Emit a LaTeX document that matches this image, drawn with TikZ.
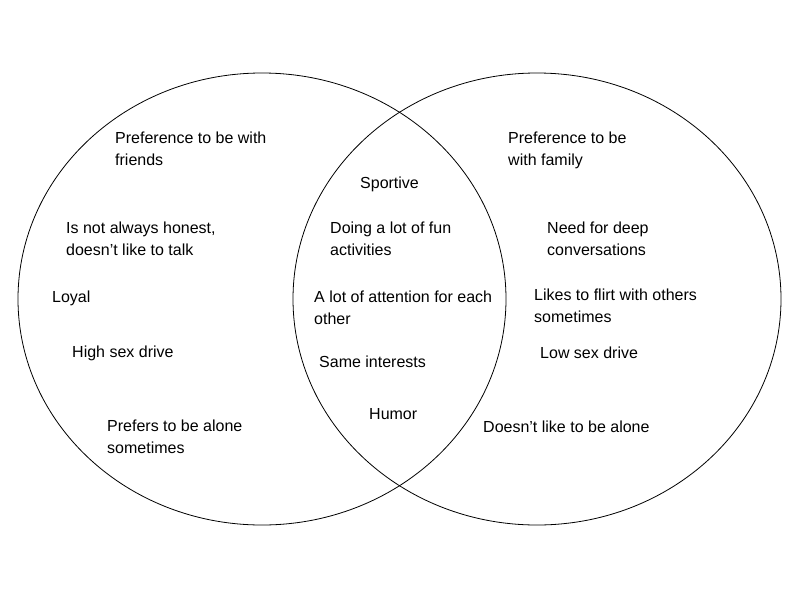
\documentclass[tikz,border=0pt]{standalone}
\usepackage{fontspec}
\setmainfont{Liberation Sans}
\usetikzlibrary{positioning,shapes.geometric}
\tikzset{
  item/.style={anchor=north west, inner sep=0pt, align=left,
    font=\fontsize{16}{22}\selectfont},
  set/.style={draw, thick, ellipse, inner sep=0pt,
    minimum width=488pt, minimum height=452pt}
}
\begin{document}
\begin{tikzpicture}[x=1pt,y=-1pt]
  \useasboundingbox (0,0) rectangle (800,600);
  % Sets
  \node[set] (setA) at (262,299) {};
  \node[set] (setB) at (537,299) {};

  % Left only
  \node[item] (a1) at (115,132) {Preference to be with\\friends};
  \node[item] (a2) at (66,222) {Is not always honest,\\doesn’t like to talk};
  \node[item] (a3) at (52,291) {Loyal};
  \node[item] (a4) at (72,346) {High sex drive};
  \node[item] (a5) at (107,420) {Prefers to be alone\\sometimes};

  % Both
  \node[item] (b1) at (360,177) {Sportive};
  \node[item] (b2) at (330,222) {Doing a lot of fun\\activities};
  \node[item] (b3) at (314,291) {A lot of attention for each\\other};
  \node[item] (b4) at (319,356) {Same interests};
  \node[item] (b5) at (369,408) {Humor};

  % Right only
  \node[item] (c1) at (508,132) {Preference to be\\with family};
  \node[item] (c2) at (547,222) {Need for deep\\conversations};
  \node[item] (c3) at (534,289) {Likes to flirt with others\\sometimes};
  \node[item] (c4) at (540,347) {Low sex drive};
  \node[item] (c5) at (483,421) {Doesn’t like to be alone};
\end{tikzpicture}
\end{document}
